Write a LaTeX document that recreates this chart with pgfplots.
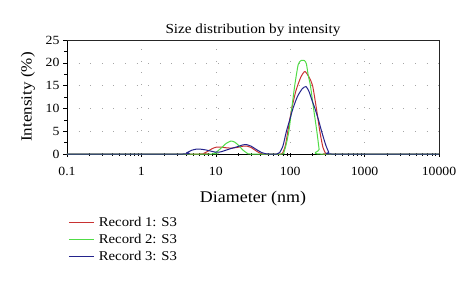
\documentclass[border=0pt]{standalone}
\usepackage{fontspec}
\setmainfont{Liberation Serif}[FakeStretch=1.1]
\usepackage{pgfplots}
\pgfplotsset{compat=1.18}

\definecolor{recA}{RGB}{200,50,50}
\definecolor{recB}{RGB}{80,220,70}
\definecolor{recC}{RGB}{35,35,140}

\begin{document}
\begin{tikzpicture}
\useasboundingbox (0,0) rectangle (474pt,285pt);
\begin{axis}[
  name=ax,
  at={(67pt,131pt)}, anchor=south west,
  scale only axis, width=372pt, height=114pt,
  xmode=log, xmin=0.1, xmax=10000, ymin=0, ymax=25,
  xtick={0.1,1,10,100,1000,10000},
  xticklabels={0.1,1,10,100,1000,10000},
  ytick={0,5,10,15,20,25},
  minor y tick num=1,
  tick pos=left, tick align=outside,
  major tick length=4pt, minor tick length=3pt,
  x tick style={yshift=1.5pt},
  xmajorgrids, ymajorgrids,
  major grid style={gray!70, line width=0.6pt, dash pattern=on 0.6pt off 11pt},
  axis line style={black, line width=0.7pt},
  every tick/.style={black, line width=0.5pt},
  /pgf/number format/assume math mode=true,
  tick label style={font=\fontsize{12.5}{14}\selectfont},
  xticklabel style={yshift=-6pt},
  title={Size distribution by intensity},
  title style={font=\fontsize{13.8}{15}\selectfont, yshift=-6pt},
  xlabel={Diameter (nm)},
  ylabel={Intensity (\%)},
  xlabel style={font=\fontsize{16.3}{18}\selectfont, yshift=-8pt},
  ylabel style={font=\fontsize{15.5}{17}\selectfont, yshift=4pt},
  legend style={at={(-0.005,-0.525)}, anchor=north west, draw=none, fill=none,
    font=\fontsize{13.4}{15}\selectfont, row sep=3pt, column sep=3pt,
    nodes={inner sep=1.5pt}},
  legend cell align=left,
  legend image code/.code={\draw[#1] (0pt,0pt) -- (25pt,0pt);},
  every axis plot/.append style={line width=1pt, smooth, tension=0.35},
]
% Record 1
\addplot[recA] coordinates {
 (0.1,0) (6,0) (6.8,0.1) (7.8,0.6) (9,1.2) (10.2,1.5) (12,1.5) (14,1.35)
 (16.5,1.3) (19.5,1.45) (23,1.7) (26,1.75) (30,1.4) (34,0.8) (39,0.2) (43,0)
 (75,0) (80,0.4) (86,1.8) (93,5) (105,10) (120,14) (140,17) (158,18.1)
 (180,16.8) (200,15) (225,10) (250,5) (275,1.5) (300,0.1) (320,0) (10000,0)};
\addlegendentry{Record 1: S3}
% Record 2
\addplot[recB] coordinates {
 (0.1,0) (8.5,0) (9.3,0.1) (10.5,0.6) (12,1.4) (13.7,2.3) (16,2.85) (18,2.6)
 (20.5,1.8) (23,0.9) (26,0.25) (29,0) (78,0) (82,0.3) (88,2) (96,5)
 (105,10) (115,15) (128,19.6) (140,20.5) (155,20.5) (165,19.8) (175,17.2)
 (187,15) (206,10) (228,5) (245,1) (255,0) (10000,0)};
\addlegendentry{Record 2: S3}
% Record 3
\addplot[recC] coordinates {
 (0.1,0) (3.6,0) (4.1,0.3) (4.7,0.8) (5.4,1.05) (6.3,1.05) (7.3,0.9)
 (8.5,0.65) (10,0.4) (11.5,0.45) (13.5,0.8) (16,1.2) (19.5,1.6) (23,2.0)
 (26,2.05) (30,1.7) (35,1.0) (41,0.35) (47,0.05) (52,0) (66,0) (72,0.3)
 (80,1.8) (89,5) (99,7.6) (109,10) (125,12.6) (145,14.3) (163,14.8)
 (180,13.6) (200,11.4) (215,10) (240,7.5) (264,5) (300,2) (330,0.4)
 (360,0) (10000,0)};
\addlegendentry{Record 3: S3}
\end{axis}
% top and right edges of the plot frame
\draw[black!85, line width=0.8pt] (ax.south east) -- (ax.north east) -- (ax.north west);
\end{tikzpicture}
\end{document}
